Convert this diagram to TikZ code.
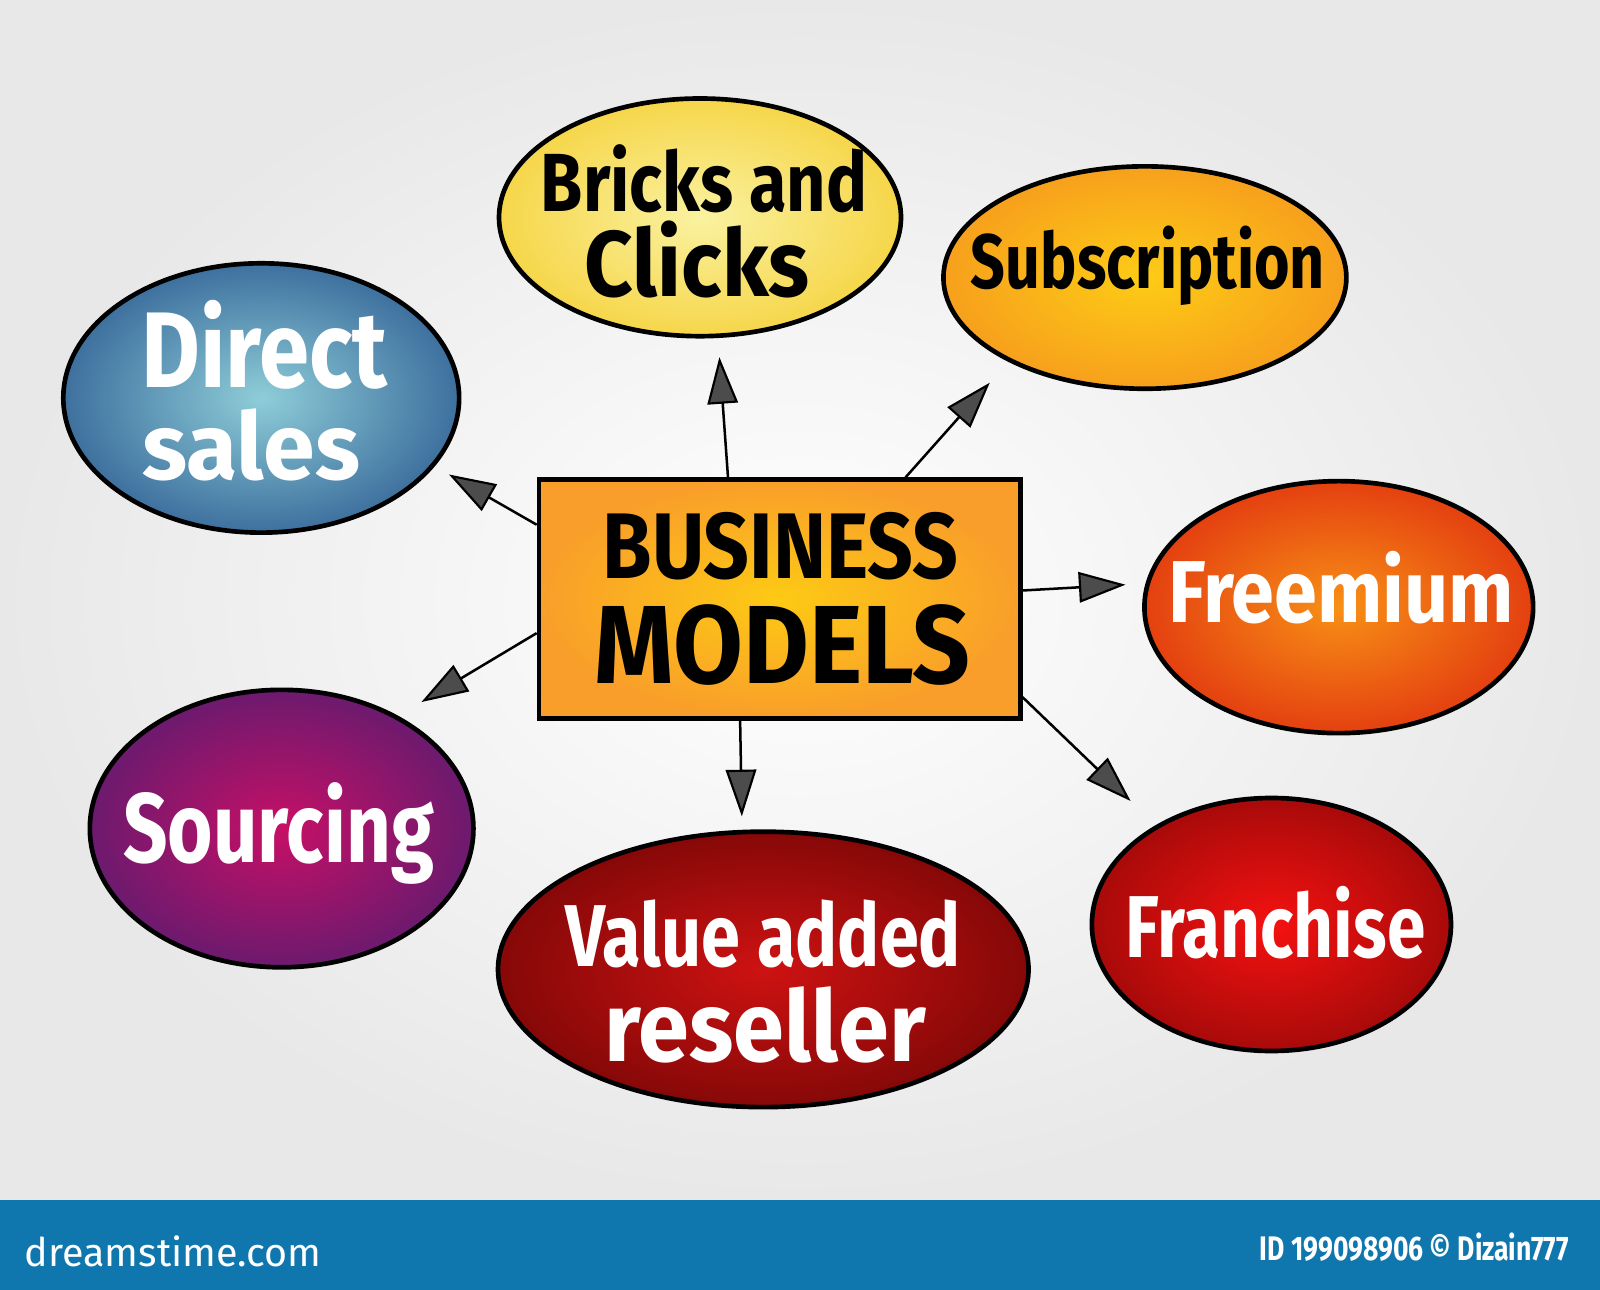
\documentclass[tikz,border=0pt]{standalone}
\usepackage{fontspec}
\setmainfont{Fira Sans}
\usetikzlibrary{shapes.geometric,arrows.meta}
\definecolor{barblue}{HTML}{1077AE}
\begin{document}
\begin{tikzpicture}[x=0.02cm,y=-0.02cm,
  oval/.style={ellipse,draw=black,line width=2.6pt,inner sep=0pt},
  mainbox/.style={rectangle,draw=black,line width=2.4pt,inner sep=0pt},
  arr/.style={line width=1.4pt,-{Triangle[length=26pt,width=17pt,fill=black!70,line width=1.2pt]}},
  lbl/.style={anchor=base,inner sep=0pt,transform shape},
  wtext/.style={lbl,text=white},
  btext/.style={lbl,text=black}]
\useasboundingbox (0,0) rectangle (1568,1264);
% background
\shade[inner color=white,outer color=black!9] (0,0) rectangle (1568,1176);
\fill[barblue] (0,1176) rectangle (1568,1264);
\node[text=white,anchor=west,font=\fontsize{22}{24}\selectfont] (brand) at (18,1226) {dreamstime.com};
\node[text=white,anchor=east,font=\bfseries\fontsize{19}{22}\selectfont,xscale=0.78,transform shape] (credit) at (1542,1222) {ID 199098906 © Dizain777};
% ovals
\node[oval,minimum width=7.88cm,minimum height=4.66cm,inner color={rgb,255:red,250;green,242;blue,160},outer color={rgb,255:red,246;green,214;blue,74}] (bricks) at (686,213) {};
\node[oval,minimum width=7.9cm,minimum height=4.36cm,inner color={rgb,255:red,253;green,204;blue,22},outer color={rgb,255:red,247;green,160;blue,28}] (subs) at (1122,272) {};
\node[oval,minimum width=7.76cm,minimum height=5.28cm,inner color={rgb,255:red,142;green,205;blue,216},outer color={rgb,255:red,62;green,112;blue,158}] (direct) at (256,390) {};
\node[oval,minimum width=7.62cm,minimum height=4.94cm,inner color={rgb,255:red,248;green,144;blue,22},outer color={rgb,255:red,228;green,64;blue,16}] (free) at (1312,595) {};
\node[oval,minimum width=7.52cm,minimum height=5.44cm,inner color={rgb,255:red,198;green,16;blue,102},outer color={rgb,255:red,108;green,26;blue,110}] (sourcing) at (276,812) {};
\node[oval,minimum width=10.4cm,minimum height=5.4cm,inner color={rgb,255:red,206;green,18;blue,18},outer color={rgb,255:red,134;green,8;blue,8}] (value) at (748,950) {};
\node[oval,minimum width=7.04cm,minimum height=4.96cm,inner color={rgb,255:red,244;green,18;blue,16},outer color={rgb,255:red,168;green,10;blue,10}] (franch) at (1246,906) {};
\node[mainbox,minimum width=9.44cm,minimum height=4.68cm,inner color={rgb,255:red,253;green,202;blue,20},outer color={rgb,255:red,249;green,158;blue,42}] (box) at (764,587) {};
% texts
\node[btext,font=\bfseries\fontsize{46}{48}\selectfont,xscale=0.83] (t1a) at (690,207) {Bricks and};
\node[btext,font=\bfseries\fontsize{52}{54}\selectfont,xscale=0.91] (t1b) at (683,291) {Clicks};
\node[btext,font=\bfseries\fontsize{43}{46}\selectfont,xscale=0.79] (t2) at (1125,283) {Subscription};
\node[wtext,font=\bfseries\fontsize{60}{62}\selectfont,xscale=0.84] (t3a) at (259,380) {Direct};
\node[wtext,font=\bfseries\fontsize{52}{54}\selectfont,xscale=1.0] (t3b) at (246,470) {sales};
\node[btext,font=\bfseries\fontsize{52}{56}\selectfont,xscale=0.86] (t4a) at (765,567) {BUSINESS};
\node[btext,font=\bfseries\fontsize{62}{64}\selectfont,xscale=0.91] (t4b) at (767,670) {MODELS};
\node[wtext,font=\bfseries\fontsize{49}{52}\selectfont,xscale=0.88] (t5) at (1314,610) {Freemium};
\node[wtext,font=\bfseries\fontsize{55}{58}\selectfont,xscale=0.79] (t6) at (273,845) {Sourcing};
\node[wtext,font=\bfseries\fontsize{49}{52}\selectfont,xscale=0.8] (t7a) at (748,947) {Value added};
\node[wtext,font=\bfseries\fontsize{55}{58}\selectfont,xscale=0.93] (t7b) at (750,1040) {reseller};
\node[wtext,font=\bfseries\fontsize{49}{52}\selectfont,xscale=0.79] (t8) at (1250,938) {Franchise};
% arrow tips
\coordinate (tB) at (705,350);
\coordinate (tS) at (970,375);
\coordinate (tD) at (440,465);
\coordinate (tF) at (1103,573);
\coordinate (tSo) at (413,688);
\coordinate (tV) at (727,800);
\coordinate (tFr) at (1108,785);
\draw[arr] (box.113.6) -- (tB);
\draw[arr] (box.44) -- (tS);
\draw[arr] (box.163.1) -- (tD);
\draw[arr] (box.2.4) -- (tF);
\draw[arr] (box.188.4) -- (tSo);
\draw[arr] (box.252.5) -- (tV);
\draw[arr] (box.338.2) -- (tFr);
\end{tikzpicture}
\end{document}
